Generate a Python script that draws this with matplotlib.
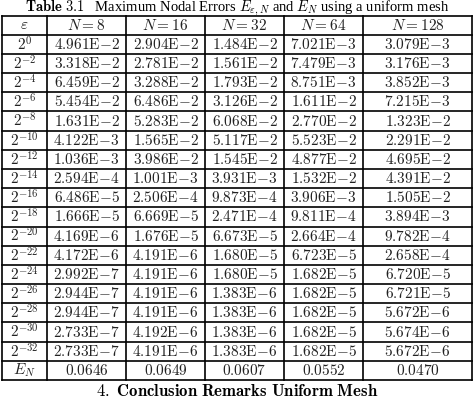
import matplotlib
matplotlib.use("Agg")
import matplotlib.pyplot as plt

plt.rcParams['font.family'] = ['Liberation Serif', 'DejaVu Serif']
plt.rcParams['mathtext.fontset'] = 'cm'

# datos de la tabla
headers = [r'$\varepsilon$', r'$N=8$', r'$N=16$', r'$N=32$', r'$N=64$', r'$N=128$']
eps_exp = [0, -2, -4, -6, -8, -10, -12, -14, -16, -18, -20, -22, -24, -26, -28, -30, -32]
err_n8 = ['4.961E-2', '3.318E-2', '6.459E-2', '5.454E-2', '1.631E-2', '4.122E-3', '1.036E-3',
          '2.594E-4', '6.486E-5', '1.666E-5', '4.169E-6', '4.172E-6', '2.992E-7', '2.944E-7',
          '2.944E-7', '2.733E-7', '2.733E-7']
err_n16 = ['2.904E-2', '2.781E-2', '3.288E-2', '6.486E-2', '5.283E-2', '1.565E-2', '3.986E-2',
           '1.001E-3', '2.506E-4', '6.669E-5', '1.676E-5', '4.191E-6', '4.191E-6', '4.191E-6',
           '4.191E-6', '4.192E-6', '4.191E-6']
err_n32 = ['1.484E-2', '1.561E-2', '1.793E-2', '3.126E-2', '6.068E-2', '5.117E-2', '1.545E-2',
           '3.931E-3', '9.873E-4', '2.471E-4', '6.673E-5', '1.680E-5', '1.680E-5', '1.383E-6',
           '1.383E-6', '1.383E-6', '1.383E-6']
err_n64 = ['7.021E-3', '7.479E-3', '8.751E-3', '1.611E-2', '2.770E-2', '5.523E-2', '4.877E-2',
           '1.532E-2', '3.906E-3', '9.811E-4', '2.664E-4', '6.723E-5', '1.682E-5', '1.682E-5',
           '1.682E-5', '1.682E-5', '1.682E-5']
err_n128 = ['3.079E-3', '3.176E-3', '3.852E-3', '7.215E-3', '1.323E-2', '2.291E-2', '4.695E-2',
            '4.391E-2', '1.505E-2', '3.894E-3', '9.782E-4', '2.658E-4', '6.720E-5', '6.721E-5',
            '5.672E-6', '5.674E-6', '5.672E-6']
e_n = ['0.0646', '0.0649', '0.0607', '0.0552', '0.0470']

fig = plt.figure(figsize=(4.74, 4.0), dpi=100)
ax = fig.add_axes([0, 0, 1, 1])
ax.set_xlim(0, 474)
ax.set_ylim(400, 0)
ax.axis('off')

col_x = [2, 47, 126, 205, 284, 363, 472]
top, bottom = 15.5, 380
nrows = 19
rh = (bottom - top) / nrows

ax.text(237, 8.5, r'$\mathbf{Table\ 3.1}$' + '   Maximum Nodal Errors $E_{\\varepsilon,N}$ and $E_N$ using a uniform mesh',
        ha='center', va='center', fontsize=10.5)

for x in col_x:
    ax.plot([x, x], [top, bottom], color='black', lw=1.2)
for i in range(nrows + 1):
    y = top + i * rh
    ax.plot([col_x[0], col_x[-1]], [y, y], color='black', lw=1.2)

def m(s):
    return '$' + s.replace('E-', r'\mathrm{E}{-}') + '$'

rows = [headers]
for k, e in enumerate(eps_exp):
    rows.append(['$2^{%d}$' % e] + [m(c[k]) for c in (err_n8, err_n16, err_n32, err_n64, err_n128)])
rows.append(['$E_N$'] + ['$%s$' % v for v in e_n])

for i, row in enumerate(rows):
    yc = top + (i + 0.5) * rh
    for j, txt in enumerate(row):
        xc = (col_x[j] + col_x[j + 1]) / 2
        ax.text(xc, yc, txt, ha='center', va='center', fontsize=11, color='#222222')

ax.text(237, 392, r'$\mathbf{4.\ Conclusion\ Remarks\ Uniform\ Mesh}$', ha='center', va='center', fontsize=12)

fig.savefig('out.png', dpi=100)
